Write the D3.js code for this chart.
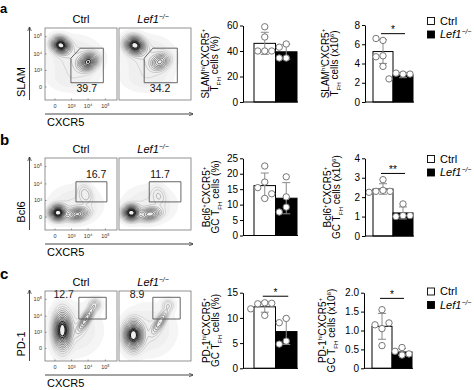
<!DOCTYPE html>
<html>
<head>
<meta charset="utf-8">
<script src="https://cdn.jsdelivr.net/npm/d3@7"></script>
<style>
  body { margin: 0; background: #fff; }
  svg { font-family: "Liberation Sans", Arial, sans-serif; }
</style>
</head>
<body>
<svg id="fig" width="474" height="390"></svg>
<script>
/// Data

const groups = ["Ctrl", "Lef1"];

// bar chart points (each circle = one mouse)
const slamPctCtrl = [59, 51, 40, 40, 40];
const slamPctKO = [45.5, 43, 34.5, 34.5];
const slamNumCtrl = [6.4, 6.6, 4.8, 4.7, 3.7];
const slamNumKO = [2.9, 3.0, 2.9, 2.4];
const bcl6PctCtrl = [22.5, 17.3, 15.5, 12.0, 13.5];
const bcl6PctKO = [19, 12.5, 9.2, 7.6];
const bcl6NumCtrl = [2.9, 2.35, 2.3, 2.3, 2.25];
const bcl6NumKO = [1.65, 1.05, 1.0, 1.05];
const pd1PctCtrl = [13.0, 12.8, 12.9, 11.8, 10.5];
const pd1PctKO = [9.9, 9.05, 5.4, 4.8];
const pd1NumCtrl = [1.55, 1.05, 1.15, 1.2, 0.6];
const pd1NumKO = [0.55, 0.45, 0.35, 0.38];

// axis ticks
const ticksSlamPct = [0, 20, 40, 60];
const ticksSlamNum = [0, 2, 4, 6, 8];
const ticksBcl6Pct = [0, 5, 10, 15, 20, 25];
const ticksBcl6Num = [0, 1, 2, 3, 4];
const ticksPd1Pct = [0, 5, 10, 15];
const ticksPd1Num = [0, 0.5, 1.0, 1.5, 2.0];

// significance
const sigStars = ["*", "**", "*", "*"];
const sigLevels = [7.1, 3.22, 14.3, 1.85];

// flow plots
const markers = ["SLAM", "Bcl6", "PD-1"];
const gateFreqCtrl = ["39.7", "16.7", "12.7"];
const gateFreqKO = ["34.2", "11.7", "8.9"];
const flowTickLabels = ["0", "10³", "10⁴", "10⁵"];
const flowTickValues = [0.18, 0.41, 0.64, 0.88];   // on the normalised biexponential scale

// cell populations: [cxcr5, marker, spread1, spread2, angle, weight] in normalised units
const slamCtrlPops = [[0.22, 0.76, 0.072, 0.06, -25, 1], [0.6, 0.53, 0.08, 0.062, 30, 0.75], [0.42, 0.58, 0.17, 0.14, 0, 0.07], [0.38, 0.3, 0.18, 0.1, 0, 0.03]];
const slamKOPops = [[0.22, 0.76, 0.078, 0.066, -25, 1], [0.57, 0.53, 0.078, 0.06, 30, 0.45], [0.42, 0.58, 0.17, 0.14, 0, 0.07], [0.38, 0.3, 0.18, 0.1, 0, 0.03]];
const bcl6CtrlPops = [[0.18, 0.24, 0.066, 0.058, 0, 1], [0.45, 0.22, 0.088, 0.05, 10, 0.55], [0.56, 0.5, 0.055, 0.08, 20, 0.14], [0.42, 0.35, 0.18, 0.13, 0, 0.05]];
const bcl6KOPops = [[0.17, 0.24, 0.066, 0.058, 0, 1], [0.43, 0.22, 0.088, 0.05, 10, 0.5], [0.55, 0.48, 0.055, 0.08, 20, 0.1], [0.42, 0.35, 0.18, 0.13, 0, 0.05]];
const pd1CtrlPops = [[0.24, 0.44, 0.066, 0.145, 0, 1], [0.57, 0.6, 0.12, 0.036, 60, 0.45], [0.69, 0.8, 0.05, 0.05, 0, 0.15], [0.42, 0.44, 0.18, 0.18, 0, 0.05]];
const pd1KOPops = [[0.2, 0.37, 0.072, 0.11, 0, 1], [0.57, 0.56, 0.11, 0.036, 60, 0.35], [0.68, 0.8, 0.05, 0.05, 0, 0.1], [0.42, 0.44, 0.18, 0.18, 0, 0.05]];

// gates in normalised units
const slamGateCtrl = [[0.36, 0.58], [0.49, 0.72], [0.81, 0.72], [0.81, 0.24], [0.36, 0.24]];
const slamGateKO = [[0.35, 0.58], [0.47, 0.72], [0.81, 0.72], [0.81, 0.24], [0.35, 0.24]];
const bcl6GateCtrl = [[0.43, 0.67], [0.86, 0.67], [0.86, 0.39], [0.43, 0.39]];
const bcl6GateKO = [[0.42, 0.67], [0.86, 0.67], [0.86, 0.39], [0.42, 0.39]];
const pd1GateCtrl = [[0.47, 0.91], [0.85, 0.91], [0.85, 0.6], [0.47, 0.6]];
const pd1GateKO = [[0.47, 0.91], [0.85, 0.91], [0.85, 0.6], [0.47, 0.6]];


/// Layout

const svg = d3.select("#fig");
const font = 10;
const rowTop = [28, 158, 291];
const rowH = [72, 72, 70];
const boxX = [45, 119];
const boxW = 72;
const levels = [0.04, 0.07, 0.11, 0.16, 0.22, 0.29, 0.37, 0.45, 0.53, 0.61, 0.69, 0.77, 0.85];
const lineColor = d3.scaleLinear().domain([0, 4, levels.length - 1]).range(["#bcbcbc", "#5c5c5c", "#1a1a1a"]);
const lineWidth = d3.scaleLinear().domain([0, levels.length - 1]).range([0.55, 1.1]);

svg.append("defs").append("marker")
  .attr("id", "arrow")
  .attr("viewBox", "0 0 10 10")
  .attr("refX", 9).attr("refY", 5)
  .attr("markerWidth", 5).attr("markerHeight", 5)
  .attr("orient", "auto")
  .append("path").attr("d", "M0,1L10,5L0,9").attr("fill", "none").attr("stroke", "#333").attr("stroke-width", 1.6);

// rich text with sup/sub segments
function rich(t, segs) {
  var shift = 0;
  segs.forEach(function (s) {
    var target = s[1] === "sup" ? -3.6 : s[1] === "sub" ? 2.6 : 0;
    t.append("tspan")
      .attr("dy", target - shift)
      .attr("font-size", s[1] ? "0.62em" : null)
      .text(s[0]);
    shift = target;
  });
}

function koLabel(t) {
  t.attr("font-style", "italic");
  rich(t, [["Lef1", ""], ["−/−", "sup"]]);
}

function density(pops, u, v) {
  var s = 0;
  pops.forEach(function (p) {
    var a = p[4] * Math.PI / 180;
    var du = u - p[0], dv = v - p[1];
    var r1 = (du * Math.cos(a) + dv * Math.sin(a)) / p[2];
    var r2 = (-du * Math.sin(a) + dv * Math.cos(a)) / p[3];
    s += p[5] * Math.exp(-0.5 * (r1 * r1 + r2 * r2));
  });
  return s;
}

function flowPlot(x0, y0, h, pops, gate, freq, freqPos, id) {
  var sx = d3.scaleLinear([0, 1], [0, boxW]);
  var sy = d3.scaleLinear([0, 1], [h, 0]);
  var res = 2, n = boxW * res, m = h * res;
  var values = new Array(n * m);
  for (var j = 0; j < m; j++) {
    for (var i = 0; i < n; i++) {
      values[j * n + i] = density(pops, sx.invert((i + 0.5) / res), sy.invert((j + 0.5) / res));
    }
  }
  var max = d3.max(values);
  var g = svg.append("g").attr("transform", "translate(" + x0 + "," + y0 + ")");
  g.append("clipPath").attr("id", id).append("rect").attr("width", boxW).attr("height", h);
  var inner = g.append("g").attr("clip-path", "url(#" + id + ")")
    .append("g").attr("transform", "scale(" + (1 / res) + ")");

  // sparse events around the populations
  var haze = d3.contours().size([n, m]).thresholds([0.004 * max, 0.015 * max])(values);
  inner.selectAll("path.haze").data(haze).join("path")
    .attr("class", "haze")
    .attr("d", d3.geoPath())
    .attr("fill", "#e8e8e8")
    .attr("fill-opacity", 0.45)
    .attr("stroke", "none");

  var cs = d3.contours().size([n, m]).thresholds(levels.map(function (l) { return l * max; }))(values);
  inner.selectAll("path.lvl").data(cs).join("path")
    .attr("class", "lvl")
    .attr("d", d3.geoPath())
    .attr("fill", "none")
    .attr("stroke", function (d, k) { return lineColor(k); })
    .attr("stroke-width", function (d, k) { return lineWidth(k) * res; });

  // gate
  g.append("path")
    .attr("d", d3.line().x(function (d) { return sx(d[0]); }).y(function (d) { return sy(d[1]); }).curve(d3.curveLinearClosed)(gate))
    .attr("fill", "none").attr("stroke", "#555").attr("stroke-width", 0.9);
  g.append("text")
    .attr("x", sx(freqPos[0])).attr("y", sy(freqPos[1]))
    .attr("text-anchor", "middle").attr("font-size", 10.5).attr("fill", "#111")
    .text(freq);

  g.append("rect").attr("width", boxW).attr("height", h)
    .attr("fill", "none").attr("stroke", "#777").attr("stroke-width", 0.8);
  return { sx: sx, sy: sy, g: g };
}

var pops = [[slamCtrlPops, slamKOPops], [bcl6CtrlPops, bcl6KOPops], [pd1CtrlPops, pd1KOPops]];
var gates = [[slamGateCtrl, slamGateKO], [bcl6GateCtrl, bcl6GateKO], [pd1GateCtrl, pd1GateKO]];
var freqPos = [[[0.58, 0.11], [0.57, 0.11]], [[0.71, 0.72], [0.57, 0.72]], [[0.26, 0.9], [0.25, 0.9]]];
var markerMid = [82, 212, 344];
var panelY = [13, 145, 279];

rowTop.forEach(function (top, r) {
  var h = rowH[r];
  svg.append("text").attr("x", 0).attr("y", panelY[r])
    .attr("font-size", r ? 15 : 13).attr("font-weight", "bold").text("abc"[r]);

  var left = flowPlot(boxX[0], top, h, pops[r][0], gates[r][0], gateFreqCtrl[r], freqPos[r][0], "clipL" + r);
  flowPlot(boxX[1], top, h, pops[r][1], gates[r][1], gateFreqKO[r], freqPos[r][1], "clipR" + r);

  svg.append("text").attr("x", boxX[0] + boxW / 2 + 0).attr("y", top - 5.5)
    .attr("text-anchor", "middle").attr("font-size", 11).text("Ctrl");
  koLabel(svg.append("text").attr("x", boxX[1] + boxW / 2 - 2).attr("y", top - 5.5)
    .attr("text-anchor", "middle").attr("font-size", 11));

  // biexponential tick labels on the left plot only
  var lg = left.g;
  flowTickValues.forEach(function (v, k) {
    lg.append("text").attr("x", -3).attr("y", left.sy(v) + 1.8)
      .attr("text-anchor", "end").attr("font-size", 5.5).attr("fill", "#333").text(flowTickLabels[k]);
    lg.append("line").attr("x1", 0).attr("x2", 1.5).attr("y1", left.sy(v)).attr("y2", left.sy(v)).attr("stroke", "#555").attr("stroke-width", 0.6);
    lg.append("text").attr("x", left.sx(v) - 3).attr("y", h + 7.5)
      .attr("text-anchor", "middle").attr("font-size", 5.5).attr("fill", "#333").text(flowTickLabels[k]);
    lg.append("line").attr("y1", h).attr("y2", h - 1.5).attr("x1", left.sx(v) - 3).attr("x2", left.sx(v) - 3).attr("stroke", "#555").attr("stroke-width", 0.6);
  });

  // axis arrows and titles
  svg.append("line").attr("x1", 29.5).attr("x2", 29.5).attr("y1", top + h).attr("y2", top - 1)
    .attr("stroke", "#333").attr("stroke-width", 0.9).attr("marker-end", "url(#arrow)");
  svg.append("line").attr("x1", boxX[0]).attr("x2", boxX[1] + boxW + 2).attr("y1", top + h + 14).attr("y2", top + h + 14)
    .attr("stroke", "#333").attr("stroke-width", 0.9).attr("marker-end", "url(#arrow)");
  svg.append("text").attr("x", boxX[0] + 2).attr("y", top + h + 25.5).attr("font-size", 11).text("CXCR5");
  svg.append("text").attr("transform", "translate(25," + markerMid[r] + ") rotate(-90)")
    .attr("text-anchor", "middle").attr("font-size", 11).text(markers[r]);
});


/// Bar charts

function dodge(vals, y, cx, r) {
  var placed = [];
  var d = 2 * r + 0.6;
  return vals.map(function (v) {
    var py = y(v);
    var offs = [0, -d, d, -2 * d, 2 * d];
    var px = cx;
    for (var k = 0; k < offs.length; k++) {
      var cand = cx + offs[k];
      var ok = placed.every(function (p) { return Math.hypot(p[0] - cand, p[1] - py) >= 2 * r; });
      if (ok) { px = cand; break; }
    }
    placed.push([px, py]);
    return [px, py];
  });
}

function barChart(c) {
  var y = d3.scaleLinear().domain([0, c.ticks[c.ticks.length - 1]]).range([c.bottom, c.top]);
  var x = d3.scaleBand().domain(groups).range([c.ax + c.b0, c.ax + c.b1]);
  var g = svg.append("g");

  var sets = [c.ctrl, c.ko];
  groups.forEach(function (grp, k) {
    var vals = sets[k];
    var m = d3.mean(vals), sd = d3.deviation(vals);
    var cx = x(grp) + x.bandwidth() / 2;
    g.append("rect")
      .attr("x", x(grp)).attr("width", x.bandwidth())
      .attr("y", y(m)).attr("height", y(0) - y(m))
      .attr("fill", k ? "#000" : "#fff").attr("stroke", "#000").attr("stroke-width", 1);
    g.append("line").attr("x1", cx).attr("x2", cx).attr("y1", y(m - sd)).attr("y2", y(m + sd))
      .attr("stroke", "#8a8a8a").attr("stroke-width", 1);
    [m - sd, m + sd].forEach(function (e) {
      g.append("line").attr("x1", cx - 4).attr("x2", cx + 4).attr("y1", y(e)).attr("y2", y(e))
        .attr("stroke", "#8a8a8a").attr("stroke-width", 1);
    });
    g.selectAll(null).data(dodge(vals, y, cx, 3.2)).join("circle")
      .attr("cx", function (d) { return d[0]; }).attr("cy", function (d) { return d[1]; })
      .attr("r", 3.2).attr("fill", "#fff").attr("stroke", "#777").attr("stroke-width", 1);
  });

  var axis = d3.axisLeft(y).tickValues(c.ticks).tickSize(3).tickSizeOuter(0).tickPadding(2)
    .tickFormat(c.fmt || d3.format("d"));
  var ag = g.append("g").attr("transform", "translate(" + c.ax + ",0)").call(axis)
    .attr("font-size", font).attr("font-family", null);
  ag.selectAll("text").attr("fill", "#000");
  g.append("line").attr("x1", c.ax).attr("x2", c.ax + c.b1 + 1).attr("y1", y(0)).attr("y2", y(0))
    .attr("stroke", "#000").attr("stroke-width", 1);

  if (c.sig) {
    var x1 = x(groups[0]) + x.bandwidth() / 2 - 2, x2 = x(groups[1]) + x.bandwidth() / 2 + 2;
    g.append("line").attr("x1", x1).attr("x2", x2).attr("y1", y(c.sigLevel)).attr("y2", y(c.sigLevel))
      .attr("stroke", "#000").attr("stroke-width", 1);
    g.append("text").attr("x", (x1 + x2) / 2).attr("y", y(c.sigLevel) - 0.5)
      .attr("text-anchor", "middle").attr("font-size", 10).text(c.sig);
  }

  var mid = (c.top + c.bottom) / 2;
  rich(svg.append("text").attr("transform", "translate(" + (c.ax + c.l1) + "," + mid + ") rotate(-90)")
    .attr("text-anchor", "middle").attr("font-size", 10), c.lab1);
  rich(svg.append("text").attr("transform", "translate(" + (c.ax + c.l2) + "," + mid + ") rotate(-90)")
    .attr("text-anchor", "middle").attr("font-size", 10), c.lab2);
}

var fmt1 = function (d) { return d === 0 ? "0" : d3.format(".1f")(d); };
var pctLabel = [["T", ""], ["FH", "sub"], [" cells (%)", ""]];
var numLabel = [["T", ""], ["FH", "sub"], [" cells (x10", ""], ["6", "sup"], [")", ""]];
var gcPctLabel = [["GC T", ""], ["FH", "sub"], [" cells (%)", ""]];
var gcNumLabel = [["GC T", ""], ["FH", "sub"], [" cells (x10", ""], ["6", "sup"], [")", ""]];
var slamLab = [["SLAM", ""], ["hi", "sup"], ["CXCR5", ""], ["+", "sup"]];
var bcl6Lab = [["Bcl6", ""], ["+", "sup"], ["CXCR5", ""], ["+", "sup"]];
var pd1Lab = [["PD-1", ""], ["hi", "sup"], ["CXCR5", ""], ["+", "sup"]];

barChart({ ax: 243, b0: 11, b1: 54, top: 25.5, bottom: 102, ticks: ticksSlamPct, ctrl: slamPctCtrl, ko: slamPctKO, lab1: slamLab, lab2: pctLabel, l1: -34, l2: -25 });
barChart({ ax: 365, b0: 8, b1: 48, top: 25, bottom: 102, ticks: ticksSlamNum, ctrl: slamNumCtrl, ko: slamNumKO, sig: sigStars[0], sigLevel: sigLevels[0], lab1: slamLab, lab2: numLabel, l1: -36, l2: -27 });
barChart({ ax: 243, b0: 11, b1: 54, top: 158.3, bottom: 235.5, ticks: ticksBcl6Pct, ctrl: bcl6PctCtrl, ko: bcl6PctKO, lab1: bcl6Lab, lab2: gcPctLabel, l1: -33, l2: -24 });
barChart({ ax: 365, b0: 8, b1: 48, top: 158.3, bottom: 236, ticks: ticksBcl6Num, ctrl: bcl6NumCtrl, ko: bcl6NumKO, sig: sigStars[1], sigLevel: sigLevels[1], lab1: bcl6Lab, lab2: gcNumLabel, l1: -34, l2: -25 });
barChart({ ax: 243, b0: 11, b1: 54, top: 292.7, bottom: 368.3, ticks: ticksPd1Pct, ctrl: pd1PctCtrl, ko: pd1PctKO, sig: sigStars[2], sigLevel: sigLevels[2], lab1: pd1Lab, lab2: gcPctLabel, l1: -33, l2: -24 });
barChart({ ax: 364, b0: 8, b1: 48, top: 292.7, bottom: 368.3, ticks: ticksPd1Num, fmt: fmt1, ctrl: pd1NumCtrl, ko: pd1NumKO, sig: sigStars[3], sigLevel: sigLevels[3], lab1: pd1Lab, lab2: gcNumLabel, l1: -38, l2: -29 });

// legends
var legendY = [17.5, 155.5, 288];
legendY.forEach(function (ly) {
  [0, 1].forEach(function (k) {
    var yy = ly + k * 13.5;
    svg.append("rect").attr("x", 427.5).attr("y", yy).attr("width", 7).attr("height", 7)
      .attr("fill", k ? "#000" : "#fff").attr("stroke", "#000").attr("stroke-width", 0.9);
    var t = svg.append("text").attr("x", 440).attr("y", yy + 7).attr("font-size", 11);
    if (k) koLabel(t); else t.text("Ctrl");
  });
});
</script>
</body>
</html>
